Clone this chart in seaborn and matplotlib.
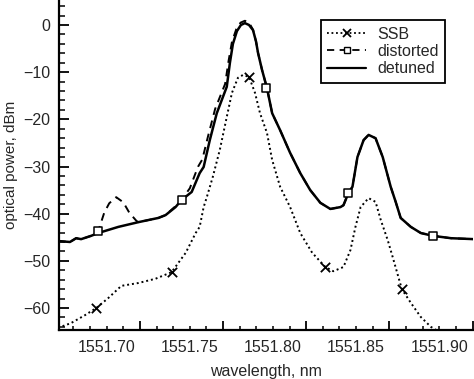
import matplotlib
matplotlib.use("Agg")
import numpy as np
import pandas as pd
import matplotlib.pyplot as plt
import seaborn as sns
from matplotlib.lines import Line2D
from matplotlib.ticker import FixedLocator, FuncFormatter, NullFormatter

# ---------------- data ----------------
detuned_wl = [1551.6707, 1551.6779, 1551.6816, 1551.6846, 1551.6906, 1551.6949, 1551.7070,
              1551.7190, 1551.7311, 1551.7354, 1551.7414, 1551.7450, 1551.7511, 1551.7541,
              1551.7559, 1551.7583, 1551.7620, 1551.7662, 1551.7722, 1551.7741, 1551.7759,
              1551.7783, 1551.7807, 1551.7831, 1551.7856, 1551.7880, 1551.7898, 1551.7910,
              1551.7934, 1551.7964, 1551.7995, 1551.8043,
              1551.8103, 1551.8164, 1551.8224, 1551.8285, 1551.8345, 1551.8406, 1551.8424,
              1551.8454, 1551.8478, 1551.8508, 1551.8545, 1551.8575, 1551.8617, 1551.8660,
              1551.8708, 1551.8738, 1551.8768, 1551.8829, 1551.8889, 1551.8962, 1551.9071,
              1551.9210]
detuned_pw = [-45.8, -46.0, -45.2, -45.4, -44.7, -44.1, -42.8,
              -41.8, -40.9, -40.3, -38.6, -37.1, -35.4, -32.9,
              -31.4, -30.1, -24.4, -18.7, -13.1, -8.0, -4.0,
              -1.3, 0.0, 0.4, 0.0, -1.1, -3.5, -5.9,
              -9.5, -13.4, -18.7, -22.3,
              -27.1, -31.4, -35.0, -37.7, -39.0, -38.6, -38.2,
              -35.6, -34.3, -28.0, -24.4, -23.3, -24.0, -28.0,
              -34.3, -37.5, -40.9, -42.8, -44.1, -44.7, -45.2,
              -45.4]

distorted_wl = [1551.6707, 1551.6779, 1551.6816, 1551.6846, 1551.6906, 1551.6949, 1551.6985,
                1551.7015, 1551.7057, 1551.7100, 1551.7136, 1551.7178, 1551.7190, 1551.7311,
                1551.7354, 1551.7414, 1551.7450, 1551.7500, 1551.7530, 1551.7550, 1551.7575,
                1551.7610, 1551.7652, 1551.7712, 1551.7733, 1551.7753, 1551.7779, 1551.7805,
                1551.7831, 1551.7856, 1551.7880, 1551.7898, 1551.7910,
                1551.7934, 1551.7964, 1551.7995, 1551.8043, 1551.8103, 1551.8164,
                1551.8224, 1551.8285, 1551.8345, 1551.8406, 1551.8424, 1551.8454, 1551.8478,
                1551.8508, 1551.8545, 1551.8575, 1551.8617, 1551.8660, 1551.8708, 1551.8738,
                1551.8768, 1551.8829, 1551.8889, 1551.8962, 1551.9071, 1551.9210]
distorted_pw = [-45.8, -46.0, -45.2, -45.4, -44.7, -43.7, -39.8,
                -37.8, -36.5, -37.6, -39.8, -41.5, -41.8, -40.9,
                -40.3, -38.4, -37.1, -34.6, -31.8, -30.0, -28.5,
                -23.5, -17.8, -12.5, -7.6, -3.6, -0.9, 0.5,
                0.9, 0.5, -1.0, -3.5, -5.9,
                -9.5, -13.4, -18.7, -22.3, -27.1, -31.4,
                -35.0, -37.7, -39.0, -38.6, -38.2, -35.6, -34.3,
                -28.0, -24.4, -23.3, -24.0, -28.0, -34.3, -37.5,
                -40.9, -42.8, -44.1, -44.7, -45.2, -45.4]

ssb_wl = [1551.6707, 1551.6785, 1551.6870, 1551.6937, 1551.7009, 1551.7088, 1551.7190,
          1551.7293, 1551.7390, 1551.7475, 1551.7535, 1551.7559, 1551.7583, 1551.7602,
          1551.7638, 1551.7680, 1551.7722, 1551.7753, 1551.7789, 1551.7819, 1551.7856,
          1551.7892, 1551.7922, 1551.7964, 1551.7995, 1551.8043, 1551.8103, 1551.8164,
          1551.8236, 1551.8315, 1551.8363, 1551.8424, 1551.8466, 1551.8496, 1551.8527,
          1551.8575, 1551.8617, 1551.8648, 1551.8690, 1551.8720, 1551.8775, 1551.8829,
          1551.8889, 1551.8950, 1551.8992, 1551.9040]
ssb_pw = [-64.2, -63.2, -61.5, -60.0, -57.9, -55.3, -54.7,
          -53.8, -52.4, -48.3, -44.1, -42.8, -38.6, -36.5,
          -32.2, -26.5, -19.5, -14.4, -11.2, -10.6, -11.0,
          -14.4, -18.7, -22.9, -28.6, -34.3, -38.6, -44.1,
          -48.3, -51.3, -52.2, -51.3, -47.7, -42.8, -38.6,
          -36.7, -37.5, -41.3, -45.6, -49.2, -56.0, -58.9,
          -61.9, -64.0, -64.9, -66.0]

ssb_mark_wl = [1551.6937, 1551.7390, 1551.7856, 1551.8315, 1551.8775]
ssb_mark_pw = [-60.0, -52.4, -11.0, -51.3, -56.0]
dist_mark_wl = [1551.6949, 1551.7450, 1551.7958, 1551.8454, 1551.8962]
dist_mark_pw = [-43.7, -37.1, -13.4, -35.6, -44.7]

series_labels = ["SSB", "distorted", "detuned"]
xtick_label_pos = [1551.70, 1551.75, 1551.80, 1551.85, 1551.90]
xtick_labels = ["1551.70", "1551.75", "1551.80", "1551.85", "1551.90"]
ytick_pos = [-60, -50, -40, -30, -20, -10, 0]

# ---------------- figure ----------------
sns.set_style("ticks")
plt.rcParams["font.family"] = ["Liberation Sans", "DejaVu Sans"]
plt.rcParams["font.size"] = 11

fig = plt.figure(figsize=(4.74, 3.79), dpi=100)
ax = fig.add_axes([59 / 474, 49 / 379, 414 / 474, 330 / 379])

df_det = pd.DataFrame({"wl": detuned_wl, "pw": detuned_pw})
df_dis = pd.DataFrame({"wl": distorted_wl, "pw": distorted_pw})
df_ssb = pd.DataFrame({"wl": ssb_wl, "pw": ssb_pw})

dot_ls = (0, (1.0, 1.5))
dash_ls = (0, (4.0, 3.0))

sns.lineplot(data=df_ssb, x="wl", y="pw", ax=ax, color="black", linestyle=dot_ls, linewidth=1.4)
sns.lineplot(data=df_dis, x="wl", y="pw", ax=ax, color="black", linestyle=dash_ls, linewidth=1.4)
sns.lineplot(data=df_det, x="wl", y="pw", ax=ax, color="black", linewidth=1.8)

sns.scatterplot(x=ssb_mark_wl, y=ssb_mark_pw, ax=ax, marker="x", color="black", s=45, linewidth=1.3, zorder=5)
sns.scatterplot(x=dist_mark_wl, y=dist_mark_pw, ax=ax, marker="s", facecolor="white", edgecolor="black",
                s=40, linewidth=1.1, zorder=5)

ax.set_xlim(1551.6713, 1551.9203)
ax.set_ylim(-64.66, 5.30)

sns.despine(ax=ax)
for sp in ("left", "bottom"):
    ax.spines[sp].set_linewidth(1.6)
    ax.spines[sp].set_color("black")

# x ticks: long unlabeled ticks + short labeled minor ticks
ax.xaxis.set_major_locator(FixedLocator([1551.72, 1551.77, 1551.82, 1551.87, 1551.92]))
ax.xaxis.set_major_formatter(NullFormatter())
minor_x = [round(1551.68 + 0.01 * i, 2) for i in range(24)]
ax.xaxis.set_minor_locator(FixedLocator(minor_x))
lab_map = {round(p, 2): l for p, l in zip(xtick_label_pos, xtick_labels)}
ax.xaxis.set_minor_formatter(FuncFormatter(lambda v, pos: lab_map.get(round(v, 2), "")))
ax.tick_params(axis="x", which="major", direction="in", length=6.5, width=1.3, color="black")
ax.tick_params(axis="x", which="minor", direction="in", length=3.2, width=1.1, color="black",
               labelbottom=True, labelsize=11.5, pad=7)

# y ticks
ax.yaxis.set_major_locator(FixedLocator(ytick_pos))
ax.yaxis.set_minor_locator(FixedLocator(list(range(-64, 6, 2))))
ax.tick_params(axis="y", which="major", direction="in", length=7.5, width=1.3, color="black",
               labelsize=11.5, pad=6)
ax.tick_params(axis="y", which="minor", direction="in", length=4.3, width=1.1, color="black")

ax.set_xlabel("wavelength, nm", fontsize=11.5)
ax.set_ylabel("optical power, dBm", fontsize=11)
ax.xaxis.set_label_coords(0.5, -0.102)
ax.yaxis.set_label_coords(-0.1, 0.5)

handles = [
    Line2D([], [], color="black", linestyle=dot_ls, linewidth=1.3, marker="x", markersize=6, markeredgewidth=1.3),
    Line2D([], [], color="black", linestyle=dash_ls, linewidth=1.3, marker="s", markersize=5,
           markerfacecolor="white", markeredgewidth=1.0),
    Line2D([], [], color="black", linewidth=1.6),
]
leg = ax.legend(handles, series_labels, loc="upper right", bbox_to_anchor=(0.932, 0.939),
                frameon=True, fancybox=False, framealpha=1, edgecolor="black", fontsize=11.5,
                handlelength=2.4, handletextpad=0.7, labelspacing=0.15, borderpad=0.4,
                borderaxespad=0)
leg.get_frame().set_linewidth(1.3)

fig.savefig("out.png", dpi=100)
